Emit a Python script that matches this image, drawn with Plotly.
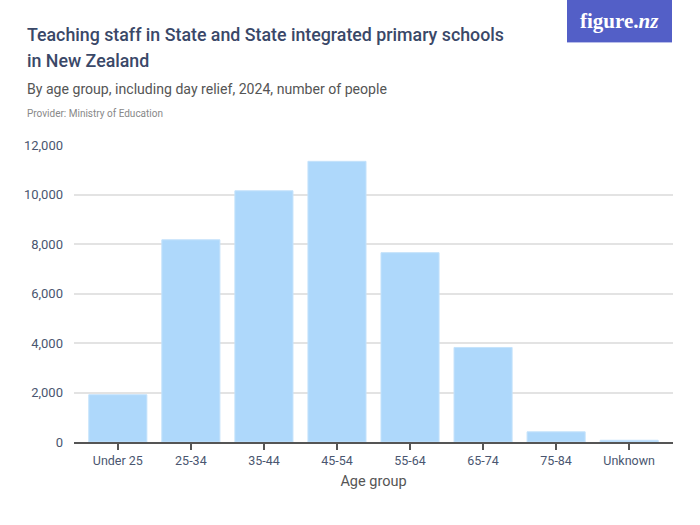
import plotly.graph_objects as go

categories = ["Under 25", "25-34", "35-44", "45-54", "55-64", "65-74", "75-84", "Unknown"]
values = [1910, 8170, 10150, 11340, 7650, 3820, 410, 70]
y_ticks = [0, 2000, 4000, 6000, 8000, 10000, 12000]
y_tick_labels = ["0", "2,000", "4,000", "6,000", "8,000", "10,000", "12,000"]

FONT = "Roboto, sans-serif"
NAVY = "#3a4868"

fig = go.Figure(go.Bar(
    x=categories, y=values,
    marker=dict(color="#aed8fb", line=dict(color="#c4e2fb", width=1)),
    hoverinfo="x+y",
))

L, R, T, B = 74, 27, 145, 83
W, H = 700, 525
pw, ph = W - L - R, H - T - B


def px(xp):
    return (xp - L) / pw


def py(yp):
    return (H - B - yp) / ph


fig.update_layout(
    width=W, height=H,
    margin=dict(l=L, r=R, t=T, b=B, pad=0),
    paper_bgcolor="white", plot_bgcolor="white",
    bargap=0.205,
    showlegend=False,
    font=dict(family=FONT, color=NAVY),
    xaxis=dict(
        range=[-0.6, 7.6],
        showline=True, linecolor="#555555", linewidth=1.5,
        ticks="outside", ticklen=6, tickcolor="#555555", tickwidth=1.5,
        tickfont=dict(size=12.5, color="#4a5670", family=FONT),
        title=dict(text="Age group", font=dict(size=14.5, color="#555555", family=FONT), standoff=9),
        showgrid=False,
    ),
    yaxis=dict(
        range=[0, 12000],
        tickvals=y_ticks, ticktext=y_tick_labels,
        showgrid=True, gridcolor="#e3e3e3", gridwidth=1.5,
        zeroline=False, showline=False, ticks="",
        tickfont=dict(size=13, color="#4a5670", family=FONT),
        ticklabelstandoff=10,
    ),
    shapes=[
        dict(type="rect", xref="paper", yref="paper",
             x0=px(567), x1=px(672), y0=py(42), y1=py(0),
             fillcolor="#535fc7", line=dict(width=0), layer="above"),
        dict(type="line", xref="paper", yref="paper",
             x0=px(567), x1=px(672), y0=py(42.5), y1=py(42.5),
             line=dict(color="#b8bdea", width=1), layer="above"),
    ],
    annotations=[
        dict(text="figure.<i>nz</i>", xref="paper", yref="paper",
             x=px(619), y=py(21), xanchor="center", yanchor="middle",
             showarrow=False, font=dict(size=21, color="white", weight="bold",
                                        family="Liberation Serif, DejaVu Serif, serif")),
        dict(text="Teaching staff in State and State integrated primary schools", xref="paper", yref="paper",
             x=px(25), y=py(35), xanchor="left", yanchor="middle", showarrow=False,
             font=dict(size=17.8, color=NAVY, family=FONT, weight=500)),
        dict(text="in New Zealand", xref="paper", yref="paper",
             x=px(25), y=py(60), xanchor="left", yanchor="middle", showarrow=False,
             font=dict(size=17.8, color=NAVY, family=FONT, weight=500)),
        dict(text="By age group, including day relief, 2024, number of people", xref="paper", yref="paper",
             x=px(25), y=py(89), xanchor="left", yanchor="middle", showarrow=False,
             font=dict(size=14.1, color="#555555", family=FONT)),
        dict(text="Provider: Ministry of Education", xref="paper", yref="paper",
             x=px(25), y=py(114), xanchor="left", yanchor="middle", showarrow=False,
             font=dict(size=10, color="#888888", family=FONT)),
    ],
)

fig.write_html("out.html")
